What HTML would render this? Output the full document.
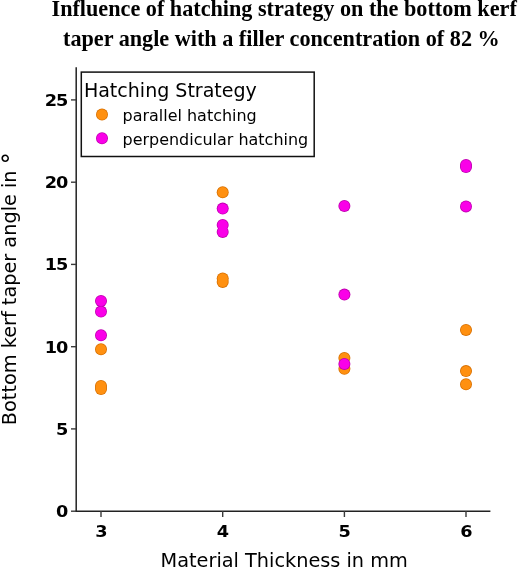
<!DOCTYPE html><html><head><meta charset="utf-8"><style>html,body{margin:0;padding:0;background:#fff;width:520px;height:570px;overflow:hidden}svg{display:block}</style></head><body>
<svg width="520" height="570" viewBox="0 0 520 570">
<rect width="520" height="570" fill="#fff"/>
<g font-family="'Liberation Serif', serif" font-weight="bold" font-size="22.2" fill="#000">
<text x="51.5" y="16.2">Influence of hatching strategy on the bottom kerf</text>
<text x="63" y="45.5">taper angle with a filler concentration of 82 %</text>
</g>
<g stroke="#222" stroke-width="1.5" fill="none">
<line x1="76.2" y1="67.3" x2="76.2" y2="512"/>
<line x1="75.5" y1="511.3" x2="490.4" y2="511.3"/>
</g>
<g stroke="#3a3a3a" stroke-width="1.4" fill="none">
<line x1="71" y1="511.2" x2="76" y2="511.2"/>
<line x1="71" y1="428.9" x2="76" y2="428.9"/>
<line x1="71" y1="346.7" x2="76" y2="346.7"/>
<line x1="71" y1="264.4" x2="76" y2="264.4"/>
<line x1="71" y1="182.2" x2="76" y2="182.2"/>
<line x1="71" y1="99.9" x2="76" y2="99.9"/>
<line x1="101.0" y1="511" x2="101.0" y2="517"/>
<line x1="222.7" y1="511" x2="222.7" y2="517"/>
<line x1="344.4" y1="511" x2="344.4" y2="517"/>
<line x1="466.0" y1="511" x2="466.0" y2="517"/>
</g>
<g font-family="'DejaVu Sans', sans-serif" font-weight="bold" font-size="15.4" fill="#000">
<text transform="translate(67.1,517.1) scale(1.15,1)" text-anchor="end" letter-spacing="-1">0</text>
<text transform="translate(67.1,434.8) scale(1.15,1)" text-anchor="end" letter-spacing="-1">5</text>
<text transform="translate(67.1,352.6) scale(1.15,1)" text-anchor="end" letter-spacing="-1">10</text>
<text transform="translate(67.1,270.3) scale(1.15,1)" text-anchor="end" letter-spacing="-1">15</text>
<text transform="translate(67.1,188.1) scale(1.15,1)" text-anchor="end" letter-spacing="-1">20</text>
<text transform="translate(67.1,105.8) scale(1.15,1)" text-anchor="end" letter-spacing="-1">25</text>
<text transform="translate(101.3,536.5) scale(1.15,1)" text-anchor="middle">3</text>
<text transform="translate(223.0,536.5) scale(1.15,1)" text-anchor="middle">4</text>
<text transform="translate(344.7,536.5) scale(1.15,1)" text-anchor="middle">5</text>
<text transform="translate(466.3,536.5) scale(1.15,1)" text-anchor="middle">6</text>
</g>
<g font-family="'DejaVu Sans', sans-serif" font-size="19.3" fill="#000">
<text x="160.6" y="567.2">Material Thickness in mm</text>
<text transform="translate(16.1,425.2) rotate(-90)" x="0" y="0">Bottom kerf taper angle in <tspan font-size="24" dy="4.2">°</tspan></text>
</g>
<g fill="#d87000">
<circle cx="101.0" cy="349.2" r="6.0"/>
<circle cx="101.0" cy="386.0" r="6.0"/>
<circle cx="101.0" cy="389.0" r="6.0"/>
<circle cx="222.7" cy="192.3" r="6.0"/>
<circle cx="222.7" cy="278.4" r="6.0"/>
<circle cx="222.7" cy="281.9" r="6.0"/>
<circle cx="344.4" cy="357.9" r="6.0"/>
<circle cx="344.4" cy="368.8" r="6.0"/>
<circle cx="466.0" cy="329.9" r="6.0"/>
<circle cx="466.0" cy="371.1" r="6.0"/>
<circle cx="466.0" cy="384.3" r="6.0"/>
</g><g fill="#ff9010">
<circle cx="101.0" cy="349.2" r="5.2"/>
<circle cx="101.0" cy="386.0" r="5.2"/>
<circle cx="101.0" cy="389.0" r="5.2"/>
<circle cx="222.7" cy="192.3" r="5.2"/>
<circle cx="222.7" cy="278.4" r="5.2"/>
<circle cx="222.7" cy="281.9" r="5.2"/>
<circle cx="344.4" cy="357.9" r="5.2"/>
<circle cx="344.4" cy="368.8" r="5.2"/>
<circle cx="466.0" cy="329.9" r="5.2"/>
<circle cx="466.0" cy="371.1" r="5.2"/>
<circle cx="466.0" cy="384.3" r="5.2"/>
</g>
<g fill="#c000b0">
<circle cx="101.0" cy="300.9" r="6.0"/>
<circle cx="101.0" cy="311.6" r="6.0"/>
<circle cx="101.0" cy="335.2" r="6.0"/>
<circle cx="222.7" cy="208.6" r="6.0"/>
<circle cx="222.7" cy="225.0" r="6.0"/>
<circle cx="222.7" cy="231.9" r="6.0"/>
<circle cx="344.4" cy="205.9" r="6.0"/>
<circle cx="344.4" cy="294.6" r="6.0"/>
<circle cx="344.4" cy="363.9" r="6.0"/>
<circle cx="466.0" cy="164.9" r="6.0"/>
<circle cx="466.0" cy="167.0" r="6.0"/>
<circle cx="466.0" cy="206.4" r="6.0"/>
</g><g fill="#fa00e8">
<circle cx="101.0" cy="300.9" r="5.2"/>
<circle cx="101.0" cy="311.6" r="5.2"/>
<circle cx="101.0" cy="335.2" r="5.2"/>
<circle cx="222.7" cy="208.6" r="5.2"/>
<circle cx="222.7" cy="225.0" r="5.2"/>
<circle cx="222.7" cy="231.9" r="5.2"/>
<circle cx="344.4" cy="205.9" r="5.2"/>
<circle cx="344.4" cy="294.6" r="5.2"/>
<circle cx="344.4" cy="363.9" r="5.2"/>
<circle cx="466.0" cy="164.9" r="5.2"/>
<circle cx="466.0" cy="167.0" r="5.2"/>
<circle cx="466.0" cy="206.4" r="5.2"/>
</g>
<rect x="81.3" y="72.1" width="232.9" height="84.4" fill="#fff" stroke="#111" stroke-width="1.5"/>
<g font-family="'DejaVu Sans', sans-serif" fill="#000">
<text x="83.9" y="97.2" font-size="19.05">Hatching Strategy</text>
<text x="122.5" y="120.8" font-size="15.98">parallel hatching</text>
<text x="122.5" y="144.9" font-size="15.98">perpendicular hatching</text>
</g>
<circle cx="102" cy="114.5" r="6.0" fill="#d87000"/><circle cx="102" cy="114.5" r="5.2" fill="#ff9010"/>
<circle cx="102" cy="138.2" r="6.0" fill="#c000b0"/><circle cx="102" cy="138.2" r="5.2" fill="#fa00e8"/>
</svg></body></html>
